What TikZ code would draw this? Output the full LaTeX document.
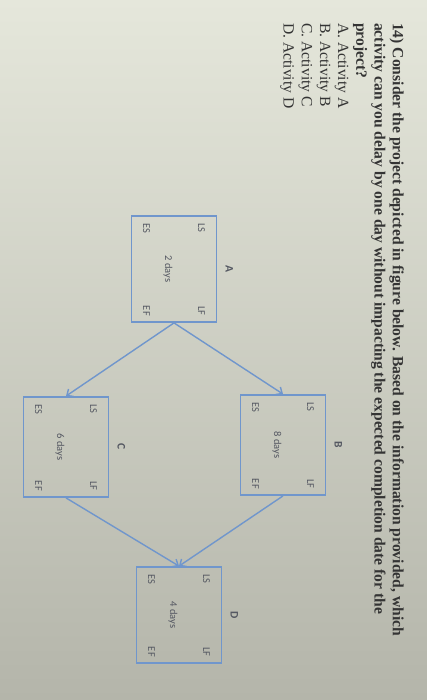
\documentclass[tikz,border=0pt]{standalone}
\usepackage{fontspec}
\setmainfont{Liberation Serif}
\newfontfamily\boxfont{Carlito}
\usetikzlibrary{positioning,calc,arrows.meta}

\definecolor{boxblue}{RGB}{112,150,204}
\definecolor{inktext}{RGB}{52,52,52}
\definecolor{boxtext}{RGB}{85,88,98}
\definecolor{bgtop}{RGB}{229,231,219}
\definecolor{bgbot}{RGB}{180,181,170}

\begin{document}
\begin{tikzpicture}[x=1pt, y=1pt, >={Straight Barb[length=5pt,width=9pt]}]
    \tikzstyle{activity} = [draw=boxblue, line width=1.8pt, rectangle, minimum width=100pt, minimum height=85pt]
    \tikzstyle{corner} = [font=\boxfont\fontsize{10.5}{12}\selectfont, text=boxtext, inner sep=0pt]
    \tikzstyle{tag} = [font=\boxfont\bfseries\fontsize{11.5}{13}\selectfont, text=boxtext, inner sep=0pt]
    \tikzstyle{line} = [draw=boxblue, ->, line width=1.4pt]

    % photographed page
    \fill[top color=bgtop, bottom color=bgbot] (0,0) rectangle (427,700);
    \useasboundingbox (0,0) rectangle (427,700);

    % page is turned a quarter clockwise
    \begin{scope}[shift={(0,700)}, rotate=-90, transform shape]
    \node [anchor=north west, align=left, inner sep=0pt, text=inktext,
           font=\fontsize{15.6}{18.2}\selectfont] (question) at (23,404)
        {\textbf{14) Consider the project depicted in figure below. Based on the information provided, which}\\
         \textbf{activity can you delay by one day without impacting the expected completion date for the}\\
         \textbf{project?}\\
         A. Activity A\\
         B. Activity B\\
         C. Activity C\\
         D. Activity D};

    \node [activity, minimum width=106pt] (A) at (269,174) {};
    \node [activity] (B) at (445,283) {};
    \node [activity] (C) at (447,66) {};
    \node [activity, minimum width=96pt] (D) at (615,179) {};

    \node [tag, above=8pt of A] (A-tag) {A};
    \node [tag, above=8pt of B] (B-tag) {B};
    \node [tag, above=8pt of C] (C-tag) {C};
    \node [tag, above=8pt of D] (D-tag) {D};

    \node [corner] (A-dur) at ($(A.center)+(0,-6)$) {2 days};
    \node [corner] (B-dur) at ($(B.center)+(0,-6)$) {8 days};
    \node [corner] (C-dur) at ($(C.center)+(0,-6)$) {6 days};
    \node [corner] (D-dur) at ($(D.center)+(0,-6)$) {4 days};

    \foreach \act in {A,B,C,D} {
        \node [corner] (\act-ls) at ($(\act.north west)+(13,-16)$) {LS};
        \node [corner] (\act-lf) at ($(\act.north east)+(-12,-16)$) {LF};
        \node [corner] (\act-es) at ($(\act.south west)+(13,16)$) {ES};
        \node [corner] (\act-ef) at ($(\act.south east)+(-12,16)$) {EF};
    }

    \draw [line] (A.east) -- (B.west);
    \draw [line] (A.east) -- (C.west);
    \draw [line] (B.east) -- (D.west);
    \draw [line] (C.east) -- (D.west);
    \end{scope}
\end{tikzpicture}
\end{document}
